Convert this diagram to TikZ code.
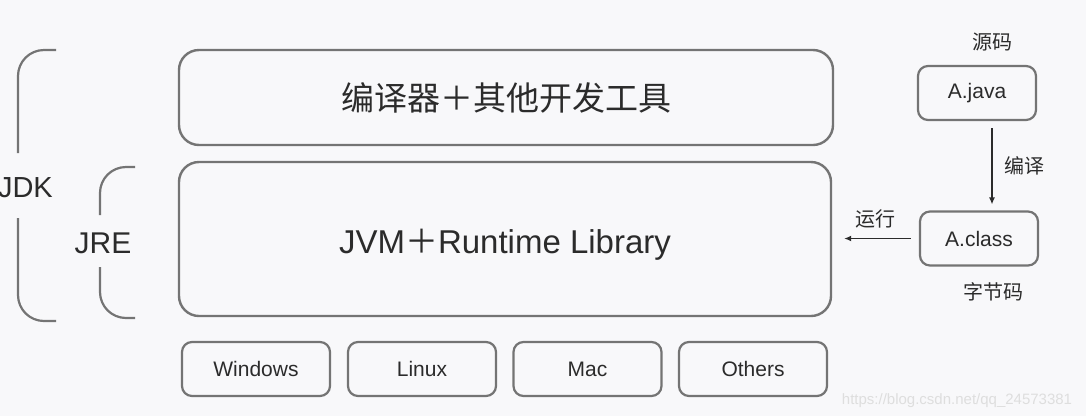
\documentclass[tikz,border=0pt]{standalone}
\usepackage{fontspec}
\setmainfont{Liberation Sans}
\newfontfamily\cjk{Noto Sans CJK SC}
\usepackage{tikz}
\usetikzlibrary{arrows.meta}
\definecolor{bordergray}{HTML}{747474}
\definecolor{inkgray}{HTML}{2B2B2B}
\definecolor{paper}{HTML}{F8F8FA}
\def\fsz#1{\fontsize{#1pt}{#1pt}\selectfont}

\begin{document}
\begin{tikzpicture}[x=1pt, y=-1pt,
	layerbox/.style={draw=bordergray, line width=2.4pt, rounded corners=20pt, text=inkgray, inner sep=0pt},
	osbox/.style={draw=bordergray, line width=2.2pt, rounded corners=10pt, text=inkgray, inner sep=0pt, minimum width=148pt, minimum height=54pt, font=\fsz{21}},
	filebox/.style={draw=bordergray, line width=2.2pt, rounded corners=10pt, text=inkgray, inner sep=0pt, minimum width=118pt, minimum height=54pt, font=\fsz{21}},
	tag/.style={text=inkgray, inner sep=0pt, font=\cjk\fsz{20}},
	brace/.style={draw=bordergray, line width=2.2pt, rounded corners=26pt},
	flow/.style={draw=inkgray, line width=1.3pt, -{Latex[length=7pt,width=6pt]}}]
			%%%%% START %%%%%
			
			\fill[paper] (0, 0) rectangle (1086, 416);
			\useasboundingbox (0, 0) rectangle (1086, 416);
			
			% layers
			\node[layerbox, minimum width=654pt, minimum height=95pt, font=\cjk\fsz{33}] (tools) at (506, 97.5) {编译器＋其他开发工具};
			\node[layerbox, minimum width=652pt, minimum height=154pt, text depth=0pt, font=\fsz{33}] (jvm) at (505, 239) {\raisebox{-4pt}{JVM{\cjk ＋}Runtime Library}};
			
			% operating systems
			\node[osbox] (win) at (256, 369) {Windows};
			\node[osbox] (linux) at (422, 369) {Linux};
			\node[osbox] (mac) at (587.5, 369) {Mac};
			\node[osbox] (others) at (753, 369) {Others};
			
			% brackets
			\draw[brace] (56, 50) -- (18, 50) -- (18, 153);
			\draw[brace] (18, 218) -- (18, 321) -- (56, 321);
			\node[anchor=east, text=inkgray, inner sep=0pt, font=\fsz{29}] (jdk) at (53, 188) {JDK};
			
			\draw[brace] (135, 167) -- (100, 167) -- (100, 215);
			\draw[brace] (100, 267) -- (100, 318) -- (135, 318);
			\node[text=inkgray, inner sep=0pt, font=\fsz{30}] (jre) at (103, 243) {JRE};
			
			% source to bytecode
			\node[filebox] (ajava) at (977, 93) {A.java};
			\node[filebox] (aclass) at (979, 238.5) {A.class};
			\node[tag] (src) at (992, 42) {源码};
			\node[tag] (bytecode) at (993, 292) {字节码};
			
			\draw[flow, shorten <=7pt, shorten >=6pt] (ajava.south -| 992, 0) -- (aclass.north -| 992, 0) node[midway, right=12pt, tag] (compile) {编译};
			\draw[flow, shorten <=8pt, shorten >=12pt] (aclass.west) -- (aclass.west -| jvm.east) node[midway, above=10pt, tag] (run) {运行};
			
			\node[text=black!13, inner sep=0pt, font=\fsz{15}] (mark) at (957, 401) {https://blog.csdn.net/qq\_24573381};
			
			%%%%% END %%%%%
\end{tikzpicture}
\end{document}
